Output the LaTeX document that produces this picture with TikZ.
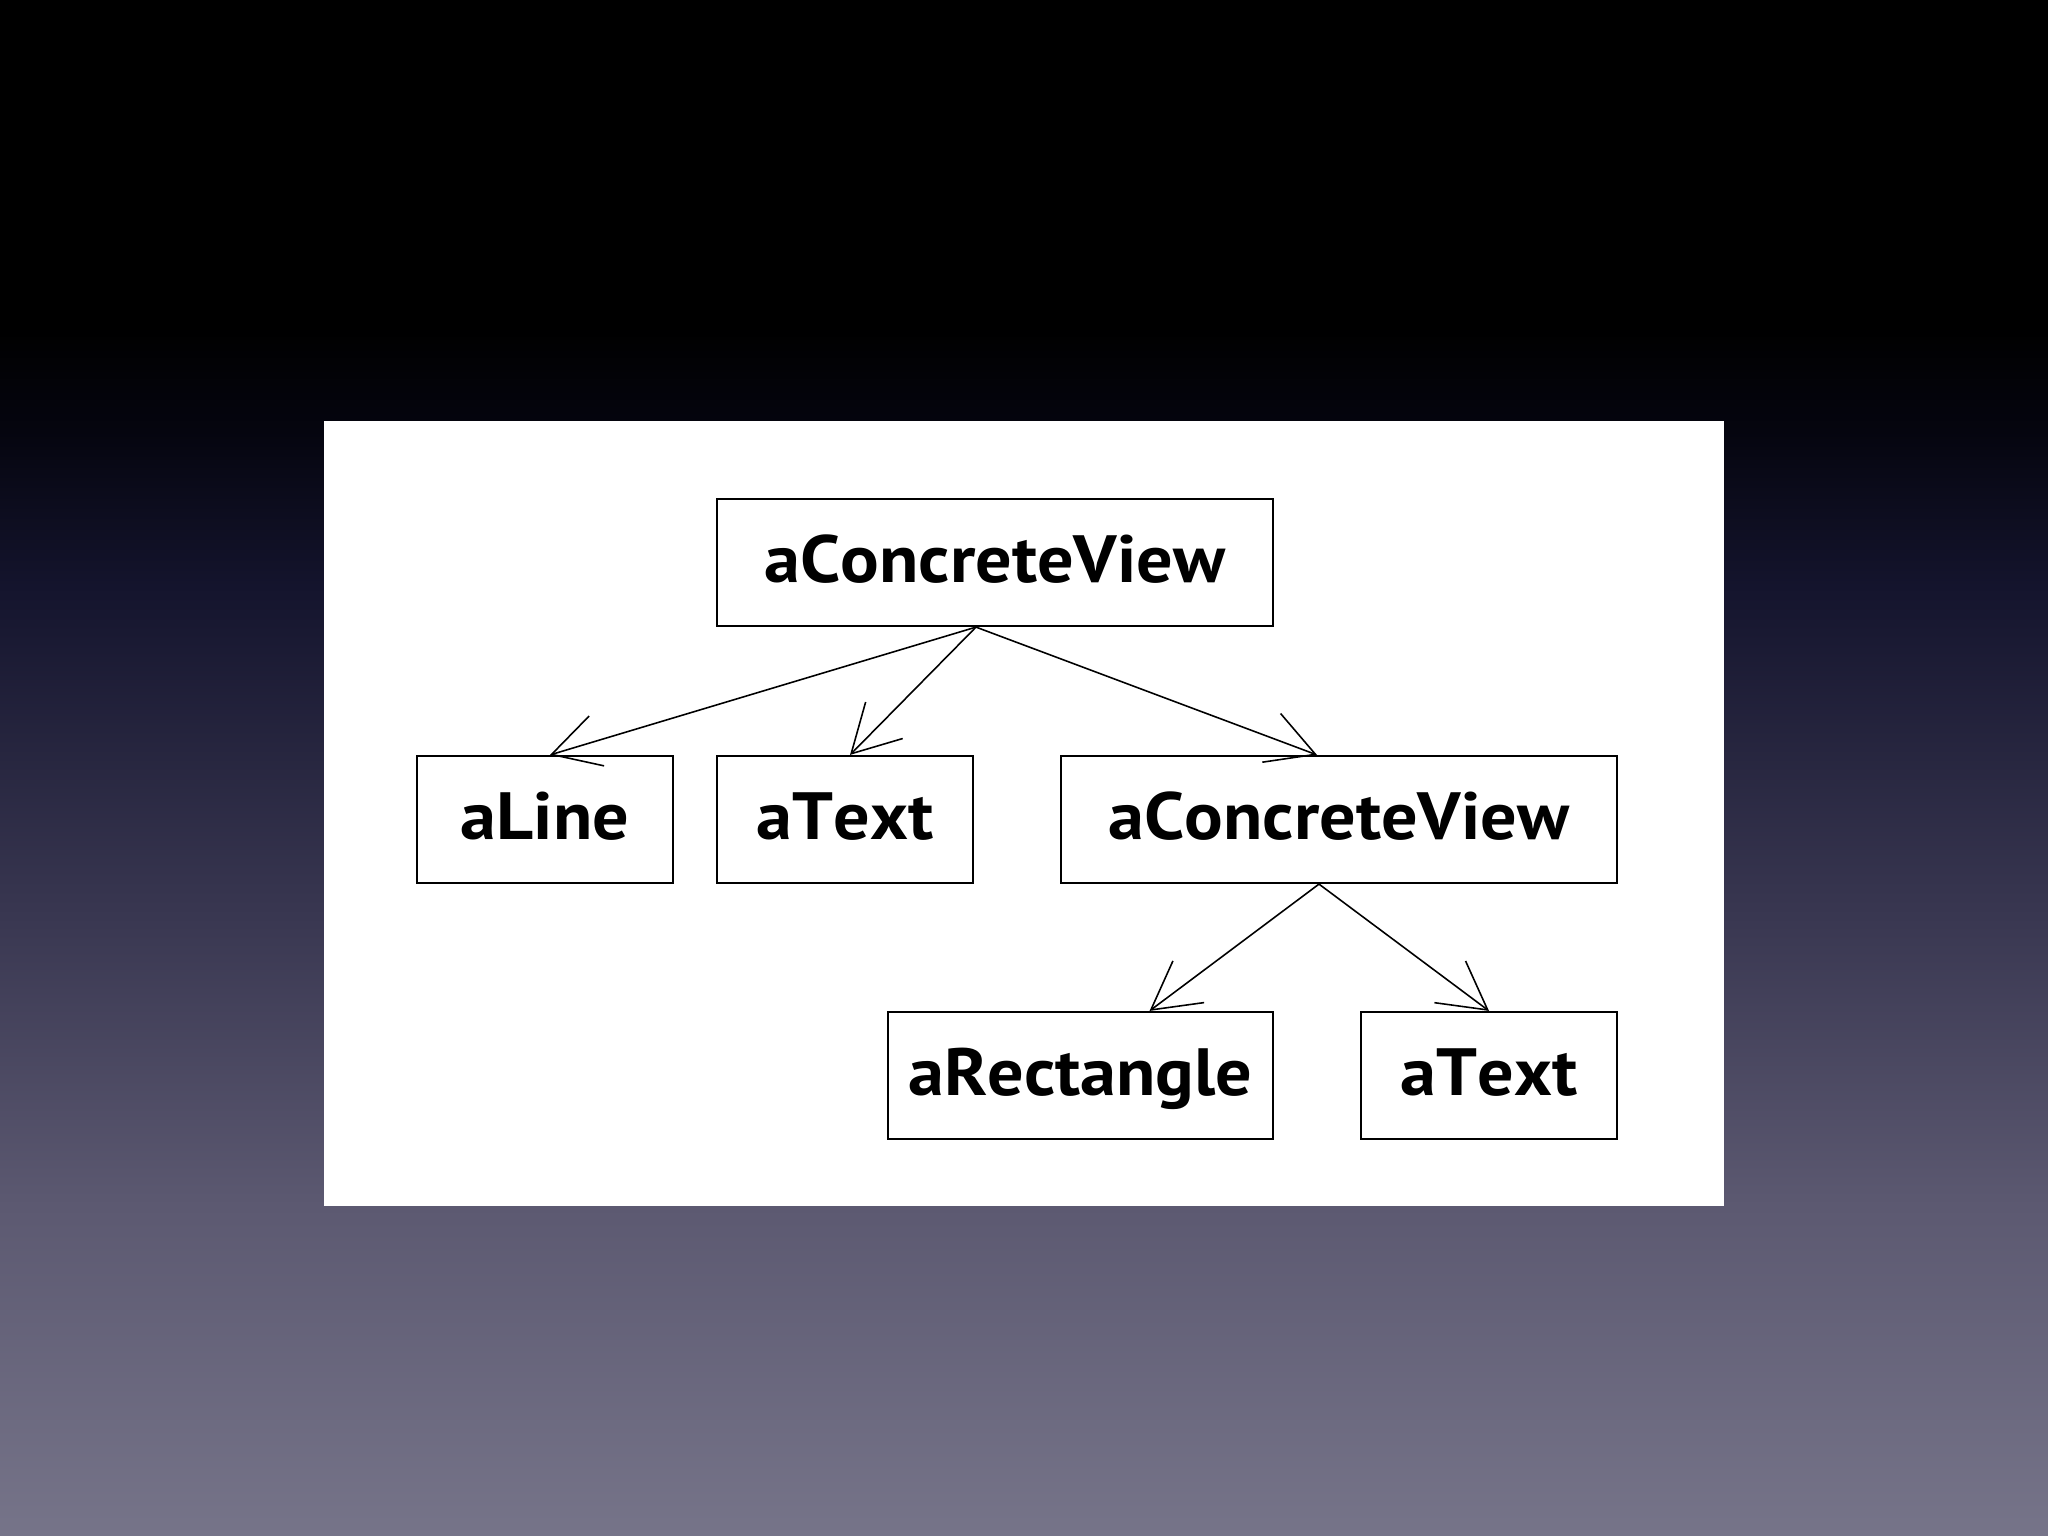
\documentclass[tikz,border=0pt]{standalone}
\usepackage{fontspec}
\setsansfont[FakeStretch=1.08,Kerning=Off]{PT Sans}
\usetikzlibrary{arrows.meta}

\definecolor{bgA}{HTML}{767489}
\definecolor{bgB}{HTML}{5C5971}
\definecolor{bgC}{HTML}{393751}
\definecolor{bgD}{HTML}{14142D}
\definecolor{bgE}{HTML}{05050F}
\pgfdeclareverticalshading{slidebg}{100bp}{%
  color(0bp)=(bgA); color(25bp)=(bgA); color(35.74bp)=(bgB); color(45.18bp)=(bgC);
  color(55.92bp)=(bgD); color(60.97bp)=(bgE); color(64.39bp)=(black);
  color(75bp)=(black); color(100bp)=(black)}

\begin{document}
\begin{tikzpicture}[x=0.01cm,y=-0.01cm]
  \tikzstyle{obj}=[draw,line width=0.6pt,minimum height=1.27cm,inner sep=0pt,
    text height=14pt,text depth=2.5pt,
    font=\sffamily\bfseries\fontsize{19}{19}\selectfont]
  \tikzstyle{wide}=[obj,minimum width=5.56cm]
  \tikzstyle{narrow}=[obj,minimum width=2.56cm]
  \tikzstyle{child}=[-{Straight Barb[length=4.7mm,width=5.2mm]},line width=0.45pt]
  \useasboundingbox (0,0) rectangle (2048,1536);
  \shade[shading=slidebg] (0,0) rectangle (2048,1536);
  \fill[white] (324,421) rectangle (1724,1206);
  % objects
  \node[wide] (view) at (995,562.5) {aConcreteView};
  \node[narrow] (line) at (545,819.5) {aLine};
  \node[narrow] (text) at (845,819.5) {aText};
  \node[wide] (subview) at (1339,819.5) {aConcreteView};
  \node[obj,minimum width=3.85cm] (rect) at (1080.5,1075.5) {aRectangle};
  \node[narrow] (subtext) at (1489,1075.5) {aText};
  \coordinate (viewout) at ([xshift=-1.9mm]view.south);
  \coordinate (subviewout) at ([xshift=-2mm]subview.south);
  \draw[child] (viewout) -- ([xshift=0.5mm]line.north);
  \draw[child] (viewout) -- ([xshift=0.5mm]text.north);
  \draw[child] (viewout) -- ([xshift=-2.2mm]subview.north);
  \draw[child] (subviewout) -- ([xshift=6.9mm]rect.north);
  \draw[child] (subviewout) -- (subtext.north);
\end{tikzpicture}
\end{document}
